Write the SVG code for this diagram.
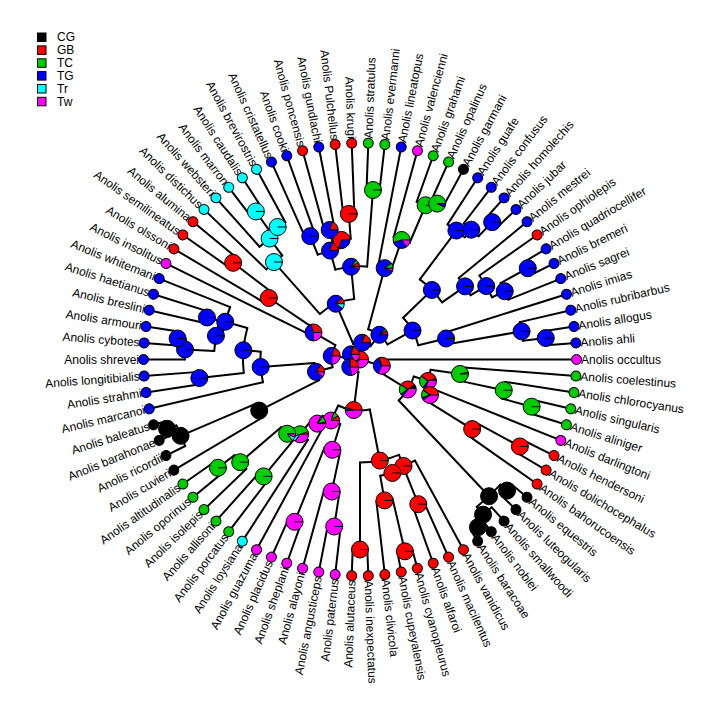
<svg xmlns="http://www.w3.org/2000/svg" xmlns:xlink="http://www.w3.org/1999/xlink" width="720" height="720" viewBox="0 0 720 720">
<style>
.e path,.e circle{fill:none;stroke:#000;stroke-width:2;stroke-linecap:round}
.tp{stroke:#000;stroke-width:1}
.K{fill:#000}.R{fill:#f00}.G{fill:#00cd00}.B{fill:#00f}.C{fill:#0ff}.M{fill:#f0f}
.s{fill:none;stroke-width:8.5}
.sK{stroke:#000}.sR{stroke:#f00}.sG{stroke:#00cd00}.sB{stroke:#00f}.sC{stroke:#0ff}.sM{stroke:#f0f}
.o{fill:none;stroke:#000;stroke-width:1}
.bd{stroke:#000;stroke-width:1;fill:none}
text{font-family:"Liberation Sans",Arial,Helvetica,sans-serif;font-size:12px;dominant-baseline:central;fill:#000}
.l{text-anchor:end}
</style>
<defs>
<g id="pK"><circle r="8.5" fill="#000" stroke="#000"/></g>
<g id="pR"><circle r="8.5" fill="#f00" stroke="#000"/><path d="M0 0H8.5" stroke="#000"/></g>
<g id="pG"><circle r="8.5" fill="#00cd00" stroke="#000"/><path d="M0 0H8.5" stroke="#000"/></g>
<g id="pB"><circle r="8.5" fill="#00f" stroke="#000"/><path d="M0 0H8.5" stroke="#000"/></g>
<g id="pC"><circle r="8.5" fill="#0ff" stroke="#000"/><path d="M0 0H8.5" stroke="#000"/></g>
<g id="pM"><circle r="8.5" fill="#f0f" stroke="#000"/><path d="M0 0H8.5" stroke="#000"/></g>
</defs>
<rect width="720" height="720" fill="#fff"/>
<g id="connectors" class="e" transform="translate(360 359.5)">
<circle r="187" stroke-dasharray="14.33 2000" transform="rotate(-8.78)"/><path d="M187 0H216.5" transform="rotate(-4.39)"/><path d="M187 0H216.5" transform="rotate(-8.78)"/>
<circle r="164" stroke-dasharray="18.85 2000" transform="rotate(-13.17)"/><path d="M164 0H187" transform="rotate(-6.585)"/><path d="M164 0H216.5" transform="rotate(-13.17)"/>
<circle r="88.6" stroke-dasharray="11.88 2000" transform="rotate(-17.56)"/><path d="M88.6 0H164" transform="rotate(-9.88)"/><path d="M88.6 0H216.5" transform="rotate(-17.56)"/>
<circle r="191" stroke-dasharray="14.63 2000" transform="rotate(-30.73)"/><path d="M191 0H216.5" transform="rotate(-26.34)"/><path d="M191 0H216.5" transform="rotate(-30.73)"/>
<circle r="160" stroke-dasharray="18.40 2000" transform="rotate(-28.54)"/><path d="M160 0H216.5" transform="rotate(-21.95)"/><path d="M160 0H191" transform="rotate(-28.54)"/>
<circle r="146" stroke-dasharray="25.18 2000" transform="rotate(-35.12)"/><path d="M146 0H160" transform="rotate(-25.24)"/><path d="M146 0H216.5" transform="rotate(-35.12)"/>
<circle r="128" stroke-dasharray="20.84 2000" transform="rotate(-39.51)"/><path d="M128 0H146" transform="rotate(-30.18)"/><path d="M128 0H216.5" transform="rotate(-39.51)"/>
<circle r="190.6" stroke-dasharray="14.60 2000" transform="rotate(-48.29)"/><path d="M190.6 0H216.5" transform="rotate(-43.9)"/><path d="M190.6 0H216.5" transform="rotate(-48.29)"/>
<circle r="171" stroke-dasharray="19.64 2000" transform="rotate(-52.68)"/><path d="M171 0H190.6" transform="rotate(-46.10)"/><path d="M171 0H216.5" transform="rotate(-52.68)"/>
<circle r="161" stroke-dasharray="21.58 2000" transform="rotate(-57.07)"/><path d="M161 0H171" transform="rotate(-49.39)"/><path d="M161 0H216.5" transform="rotate(-57.07)"/>
<circle r="100" stroke-dasharray="32.08 2000" transform="rotate(-53.23)"/><path d="M100 0H128" transform="rotate(-34.85)"/><path d="M100 0H161" transform="rotate(-53.23)"/>
<circle r="60" stroke-dasharray="31.75 2000" transform="rotate(-44.04)"/><path d="M60 0H88.6" transform="rotate(-13.72)"/><path d="M60 0H100" transform="rotate(-44.04)"/>
<circle r="174" stroke-dasharray="13.33 2000" transform="rotate(-65.85)"/><path d="M174 0H216.5" transform="rotate(-61.46)"/><path d="M174 0H216.5" transform="rotate(-65.85)"/>
<circle r="167.6" stroke-dasharray="19.25 2000" transform="rotate(-70.24)"/><path d="M167.6 0H174" transform="rotate(-63.66)"/><path d="M167.6 0H216.5" transform="rotate(-70.24)"/>
<circle r="126.6" stroke-dasharray="16.97 2000" transform="rotate(-74.63)"/><path d="M126.6 0H167.6" transform="rotate(-66.95)"/><path d="M126.6 0H216.5" transform="rotate(-74.63)"/>
<circle r="94.6" stroke-dasharray="13.59 2000" transform="rotate(-79.02)"/><path d="M94.6 0H126.6" transform="rotate(-70.79)"/><path d="M94.6 0H216.5" transform="rotate(-79.02)"/>
<circle r="31.4" stroke-dasharray="25.23 2000" transform="rotate(-74.91)"/><path d="M31.4 0H60" transform="rotate(-28.88)"/><path d="M31.4 0H94.6" transform="rotate(-74.91)"/>
<circle r="170" stroke-dasharray="13.03 2000" transform="rotate(-87.8)"/><path d="M170 0H216.5" transform="rotate(-83.41)"/><path d="M170 0H216.5" transform="rotate(-87.8)"/>
<circle r="146" stroke-dasharray="11.19 2000" transform="rotate(-96.59)"/><path d="M146 0H216.5" transform="rotate(-92.2)"/><path d="M146 0H216.5" transform="rotate(-96.59)"/>
<circle r="133" stroke-dasharray="10.19 2000" transform="rotate(-105.37)"/><path d="M133 0H216.5" transform="rotate(-100.98)"/><path d="M133 0H216.5" transform="rotate(-105.37)"/>
<circle r="121" stroke-dasharray="18.54 2000" transform="rotate(-103.17)"/><path d="M121 0H146" transform="rotate(-94.39)"/><path d="M121 0H133" transform="rotate(-103.17)"/>
<circle r="133" stroke-dasharray="10.19 2000" transform="rotate(-114.15)"/><path d="M133 0H216.5" transform="rotate(-109.76)"/><path d="M133 0H216.5" transform="rotate(-114.15)"/>
<circle r="113" stroke-dasharray="25.97 2000" transform="rotate(-111.95)"/><path d="M113 0H121" transform="rotate(-98.78)"/><path d="M113 0H133" transform="rotate(-111.95)"/>
<circle r="93.2" stroke-dasharray="32.14 2000" transform="rotate(-105.37)"/><path d="M93.2 0H170" transform="rotate(-85.61)"/><path d="M93.2 0H113" transform="rotate(-105.37)"/>
<circle r="181" stroke-dasharray="13.87 2000" transform="rotate(-127.32)"/><path d="M181 0H216.5" transform="rotate(-122.93)"/><path d="M181 0H216.5" transform="rotate(-127.32)"/>
<circle r="156" stroke-dasharray="17.92 2000" transform="rotate(-125.12)"/><path d="M156 0H216.5" transform="rotate(-118.54)"/><path d="M156 0H181" transform="rotate(-125.12)"/>
<circle r="151" stroke-dasharray="26.04 2000" transform="rotate(-131.71)"/><path d="M151 0H156" transform="rotate(-121.83)"/><path d="M151 0H216.5" transform="rotate(-131.71)"/>
<circle r="130" stroke-dasharray="21.17 2000" transform="rotate(-136.1)"/><path d="M130 0H151" transform="rotate(-126.77)"/><path d="M130 0H216.5" transform="rotate(-136.1)"/>
<circle r="60.8" stroke-dasharray="38.15 2000" transform="rotate(-131.44)"/><path d="M60.8 0H93.2" transform="rotate(-95.49)"/><path d="M60.8 0H130" transform="rotate(-131.44)"/>
<circle r="159.5" stroke-dasharray="12.22 2000" transform="rotate(-144.88)"/><path d="M159.5 0H216.5" transform="rotate(-140.49)"/><path d="M159.5 0H216.5" transform="rotate(-144.88)"/>
<circle r="110" stroke-dasharray="12.63 2000" transform="rotate(-149.27)"/><path d="M110 0H159.5" transform="rotate(-142.69)"/><path d="M110 0H216.5" transform="rotate(-149.27)"/>
<circle r="53.8" stroke-dasharray="7.21 2000" transform="rotate(-153.66)"/><path d="M53.8 0H110" transform="rotate(-145.98)"/><path d="M53.8 0H216.5" transform="rotate(-153.66)"/>
<circle r="183.6" stroke-dasharray="14.07 2000" transform="rotate(-175.61)"/><path d="M183.6 0H216.5" transform="rotate(-171.22)"/><path d="M183.6 0H216.5" transform="rotate(-175.61)"/>
<circle r="175.3" stroke-dasharray="20.13 2000" transform="rotate(-180)"/><path d="M175.3 0H183.6" transform="rotate(-173.42)"/><path d="M175.3 0H216.5" transform="rotate(-180)"/>
<circle r="158.7" stroke-dasharray="12.16 2000" transform="rotate(-166.83)"/><path d="M158.7 0H216.5" transform="rotate(-162.44)"/><path d="M158.7 0H216.5" transform="rotate(-166.83)"/>
<circle r="146" stroke-dasharray="30.76 2000" transform="rotate(-176.71)"/><path d="M146 0H158.7" transform="rotate(-164.64)"/><path d="M146 0H175.3" transform="rotate(-176.71)"/>
<circle r="140" stroke-dasharray="30.86 2000" transform="rotate(-170.68)"/><path d="M140 0H216.5" transform="rotate(-158.05)"/><path d="M140 0H146" transform="rotate(-170.68)"/>
<circle r="161.7" stroke-dasharray="12.39 2000" transform="rotate(-188.78)"/><path d="M161.7 0H216.5" transform="rotate(-184.39)"/><path d="M161.7 0H216.5" transform="rotate(-188.78)"/>
<circle r="117" stroke-dasharray="45.39 2000" transform="rotate(-186.59)"/><path d="M117 0H140" transform="rotate(-164.36)"/><path d="M117 0H161.7" transform="rotate(-186.59)"/>
<circle r="99.6" stroke-dasharray="30.77 2000" transform="rotate(-193.17)"/><path d="M99.6 0H117" transform="rotate(-175.47)"/><path d="M99.6 0H216.5" transform="rotate(-193.17)"/>
<circle r="205" stroke-dasharray="15.71 2000" transform="rotate(-201.95)"/><path d="M205 0H216.5" transform="rotate(-197.56)"/><path d="M205 0H216.5" transform="rotate(-201.95)"/>
<circle r="195" stroke-dasharray="22.39 2000" transform="rotate(-206.34)"/><path d="M195 0H205" transform="rotate(-199.76)"/><path d="M195 0H216.5" transform="rotate(-206.34)"/>
<circle r="113" stroke-dasharray="15.15 2000" transform="rotate(-210.73)"/><path d="M113 0H195" transform="rotate(-203.05)"/><path d="M113 0H216.5" transform="rotate(-210.73)"/>
<circle r="45.7" stroke-dasharray="18.00 2000" transform="rotate(-206.89)"/><path d="M45.7 0H99.6" transform="rotate(-184.32)"/><path d="M45.7 0H113" transform="rotate(-206.89)"/>
<circle r="28.5" stroke-dasharray="22.77 2000" transform="rotate(-195.6)"/><path d="M28.5 0H53.8" transform="rotate(-149.82)"/><path d="M28.5 0H45.7" transform="rotate(-195.6)"/>
<circle r="178.6" stroke-dasharray="13.68 2000" transform="rotate(-219.51)"/><path d="M178.6 0H216.5" transform="rotate(-215.12)"/><path d="M178.6 0H216.5" transform="rotate(-219.51)"/>
<circle r="157.8" stroke-dasharray="18.12 2000" transform="rotate(-223.9)"/><path d="M157.8 0H178.6" transform="rotate(-217.32)"/><path d="M157.8 0H216.5" transform="rotate(-223.9)"/>
<circle r="151.5" stroke-dasharray="11.61 2000" transform="rotate(-232.68)"/><path d="M151.5 0H216.5" transform="rotate(-228.29)"/><path d="M151.5 0H216.5" transform="rotate(-232.68)"/>
<circle r="104" stroke-dasharray="17.93 2000" transform="rotate(-230.49)"/><path d="M104 0H157.8" transform="rotate(-220.61)"/><path d="M104 0H151.5" transform="rotate(-230.49)"/>
<circle r="95.8" stroke-dasharray="19.26 2000" transform="rotate(-237.07)"/><path d="M95.8 0H104" transform="rotate(-225.55)"/><path d="M95.8 0H216.5" transform="rotate(-237.07)"/>
<circle r="77" stroke-dasharray="13.64 2000" transform="rotate(-241.46)"/><path d="M77 0H95.8" transform="rotate(-231.31)"/><path d="M77 0H216.5" transform="rotate(-241.46)"/>
<circle r="175" stroke-dasharray="13.41 2000" transform="rotate(-250.24)"/><path d="M175 0H216.5" transform="rotate(-245.85)"/><path d="M175 0H216.5" transform="rotate(-250.24)"/>
<circle r="169" stroke-dasharray="12.95 2000" transform="rotate(-263.41)"/><path d="M169 0H216.5" transform="rotate(-259.02)"/><path d="M169 0H216.5" transform="rotate(-263.41)"/>
<circle r="135" stroke-dasharray="15.53 2000" transform="rotate(-261.22)"/><path d="M135 0H216.5" transform="rotate(-254.63)"/><path d="M135 0H169" transform="rotate(-261.22)"/>
<circle r="94.4" stroke-dasharray="16.26 2000" transform="rotate(-257.92)"/><path d="M94.4 0H175" transform="rotate(-248.05)"/><path d="M94.4 0H135" transform="rotate(-257.92)"/>
<circle r="67.5" stroke-dasharray="19.56 2000" transform="rotate(-252.99)"/><path d="M67.5 0H77" transform="rotate(-236.39)"/><path d="M67.5 0H94.4" transform="rotate(-252.99)"/>
<circle r="190" stroke-dasharray="14.56 2000" transform="rotate(-272.2)"/><path d="M190 0H216.5" transform="rotate(-267.8)"/><path d="M190 0H216.5" transform="rotate(-272.2)"/>
<circle r="197" stroke-dasharray="15.09 2000" transform="rotate(-285.37)"/><path d="M197 0H216.5" transform="rotate(-280.98)"/><path d="M197 0H216.5" transform="rotate(-285.37)"/>
<circle r="143" stroke-dasharray="16.42 2000" transform="rotate(-283.17)"/><path d="M143 0H216.5" transform="rotate(-276.59)"/><path d="M143 0H197" transform="rotate(-283.17)"/>
<circle r="156" stroke-dasharray="11.95 2000" transform="rotate(-294.15)"/><path d="M156 0H216.5" transform="rotate(-289.76)"/><path d="M156 0H216.5" transform="rotate(-294.15)"/>
<circle r="118" stroke-dasharray="24.86 2000" transform="rotate(-291.95)"/><path d="M118 0H143" transform="rotate(-279.88)"/><path d="M118 0H156" transform="rotate(-291.95)"/>
<circle r="115" stroke-dasharray="25.33 2000" transform="rotate(-298.54)"/><path d="M115 0H118" transform="rotate(-285.92)"/><path d="M115 0H216.5" transform="rotate(-298.54)"/>
<circle r="103" stroke-dasharray="39.96 2000" transform="rotate(-292.23)"/><path d="M103 0H190" transform="rotate(-270)"/><path d="M103 0H115" transform="rotate(-292.23)"/>
<circle r="50.9" stroke-dasharray="32.36 2000" transform="rotate(-281.12)"/><path d="M50.9 0H67.5" transform="rotate(-244.69)"/><path d="M50.9 0H103" transform="rotate(-281.12)"/>
<circle r="205" stroke-dasharray="15.71 2000" transform="rotate(-307.32)"/><path d="M205 0H216.5" transform="rotate(-302.93)"/><path d="M205 0H216.5" transform="rotate(-307.32)"/>
<circle r="198" stroke-dasharray="22.77 2000" transform="rotate(-311.71)"/><path d="M198 0H205" transform="rotate(-305.12)"/><path d="M198 0H216.5" transform="rotate(-311.71)"/>
<circle r="197" stroke-dasharray="15.09 2000" transform="rotate(-320.49)"/><path d="M197 0H216.5" transform="rotate(-316.1)"/><path d="M197 0H216.5" transform="rotate(-320.49)"/>
<circle r="188" stroke-dasharray="32.39 2000" transform="rotate(-318.29)"/><path d="M188 0H198" transform="rotate(-308.42)"/><path d="M188 0H197" transform="rotate(-318.29)"/>
<circle r="182" stroke-dasharray="13.94 2000" transform="rotate(-333.66)"/><path d="M182 0H216.5" transform="rotate(-329.27)"/><path d="M182 0H216.5" transform="rotate(-333.66)"/>
<circle r="132" stroke-dasharray="15.16 2000" transform="rotate(-331.46)"/><path d="M132 0H216.5" transform="rotate(-324.88)"/><path d="M132 0H182" transform="rotate(-331.46)"/>
<circle r="78.5" stroke-dasharray="13.54 2000" transform="rotate(-338.05)"/><path d="M78.5 0H132" transform="rotate(-328.17)"/><path d="M78.5 0H216.5" transform="rotate(-338.05)"/>
<circle r="178" stroke-dasharray="13.64 2000" transform="rotate(-346.83)"/><path d="M178 0H216.5" transform="rotate(-342.44)"/><path d="M178 0H216.5" transform="rotate(-346.83)"/>
<circle r="147" stroke-dasharray="16.91 2000" transform="rotate(-351.22)"/><path d="M147 0H178" transform="rotate(-344.63)"/><path d="M147 0H216.5" transform="rotate(-351.22)"/>
<circle r="101" stroke-dasharray="13.54 2000" transform="rotate(-355.61)"/><path d="M101 0H147" transform="rotate(-347.93)"/><path d="M101 0H216.5" transform="rotate(-355.61)"/>
<circle r="71.3" stroke-dasharray="23.22 2000" transform="rotate(-351.77)"/><path d="M71.3 0H78.5" transform="rotate(-333.11)"/><path d="M71.3 0H101" transform="rotate(-351.77)"/>
<circle r="56.4" stroke-dasharray="28.64 2000" transform="rotate(-342.44)"/><path d="M56.4 0H188" transform="rotate(-313.35)"/><path d="M56.4 0H71.3" transform="rotate(-342.44)"/>
<circle r="22.7" stroke-dasharray="12.72 2000"/><path d="M22.7 0H56.4" transform="rotate(-327.9)"/><path d="M22.7 0H216.5"/>
<circle r="16.9" stroke-dasharray="18.16 2000" transform="rotate(-113.46)"/><path d="M16.9 0H31.4" transform="rotate(-51.89)"/><path d="M16.9 0H60.8" transform="rotate(-113.46)"/>
<circle r="12.3" stroke-dasharray="19.36 2000" transform="rotate(-262.9)"/><path d="M12.3 0H28.5" transform="rotate(-172.71)"/><path d="M12.3 0H50.9" transform="rotate(-262.9)"/>
<circle r="10.4" stroke-dasharray="24.53 2000" transform="rotate(-217.81)"/><path d="M10.4 0H16.9" transform="rotate(-82.68)"/><path d="M10.4 0H12.3" transform="rotate(-217.81)"/>
<path d="M0 0H10.4" transform="rotate(-150.25)"/><path d="M0 0H22.7" transform="rotate(-343.95)"/>
</g>
<g id="tips" transform="translate(360 359.5)">
<g id="tip_ahli" transform="rotate(-4.39)"><circle class="tp B" cx="216.5" r="5"/><text x="221">Anolis ahli</text></g>
<g id="tip_allogus" transform="rotate(-8.78)"><circle class="tp B" cx="216.5" r="5"/><text x="221">Anolis allogus</text></g>
<g id="tip_rubribarbus" transform="rotate(-13.17)"><circle class="tp B" cx="216.5" r="5"/><text x="221">Anolis rubribarbus</text></g>
<g id="tip_imias" transform="rotate(-17.56)"><circle class="tp B" cx="216.5" r="5"/><text x="221">Anolis imias</text></g>
<g id="tip_sagrei" transform="rotate(-21.95)"><circle class="tp B" cx="216.5" r="5"/><text x="221">Anolis sagrei</text></g>
<g id="tip_bremeri" transform="rotate(-26.34)"><circle class="tp B" cx="216.5" r="5"/><text x="221">Anolis bremeri</text></g>
<g id="tip_quadriocellifer" transform="rotate(-30.73)"><circle class="tp B" cx="216.5" r="5"/><text x="221">Anolis quadriocellifer</text></g>
<g id="tip_ophiolepis" transform="rotate(-35.12)"><circle class="tp R" cx="216.5" r="5"/><text x="221">Anolis ophiolepis</text></g>
<g id="tip_mestrei" transform="rotate(-39.51)"><circle class="tp B" cx="216.5" r="5"/><text x="221">Anolis mestrei</text></g>
<g id="tip_jubar" transform="rotate(-43.9)"><circle class="tp B" cx="216.5" r="5"/><text x="221">Anolis jubar</text></g>
<g id="tip_homolechis" transform="rotate(-48.29)"><circle class="tp B" cx="216.5" r="5"/><text x="221">Anolis homolechis</text></g>
<g id="tip_confusus" transform="rotate(-52.68)"><circle class="tp B" cx="216.5" r="5"/><text x="221">Anolis confusus</text></g>
<g id="tip_guafe" transform="rotate(-57.07)"><circle class="tp B" cx="216.5" r="5"/><text x="221">Anolis guafe</text></g>
<g id="tip_garmani" transform="rotate(-61.46)"><circle class="tp K" cx="216.5" r="5"/><text x="221">Anolis garmani</text></g>
<g id="tip_opalinus" transform="rotate(-65.85)"><circle class="tp G" cx="216.5" r="5"/><text x="221">Anolis opalinus</text></g>
<g id="tip_grahami" transform="rotate(-70.24)"><circle class="tp G" cx="216.5" r="5"/><text x="221">Anolis grahami</text></g>
<g id="tip_valencienni" transform="rotate(-74.63)"><circle class="tp M" cx="216.5" r="5"/><text x="221">Anolis valencienni</text></g>
<g id="tip_lineatopus" transform="rotate(-79.02)"><circle class="tp B" cx="216.5" r="5"/><text x="221">Anolis lineatopus</text></g>
<g id="tip_evermanni" transform="rotate(-83.41)"><circle class="tp G" cx="216.5" r="5"/><text x="221">Anolis evermanni</text></g>
<g id="tip_stratulus" transform="rotate(-87.8)"><circle class="tp G" cx="216.5" r="5"/><text x="221">Anolis stratulus</text></g>
<g id="tip_krugi" transform="rotate(87.8)"><circle class="tp R" cx="-216.5" r="5"/><text class="l" x="-221">Anolis krugi</text></g>
<g id="tip_pulchellus" transform="rotate(83.41)"><circle class="tp R" cx="-216.5" r="5"/><text class="l" x="-221">Anolis Pulchellus</text></g>
<g id="tip_gundlachi" transform="rotate(79.02)"><circle class="tp B" cx="-216.5" r="5"/><text class="l" x="-221">Anolis gundlachi</text></g>
<g id="tip_poncensis" transform="rotate(74.63)"><circle class="tp R" cx="-216.5" r="5"/><text class="l" x="-221">Anolis poncensis</text></g>
<g id="tip_cooki" transform="rotate(70.24)"><circle class="tp B" cx="-216.5" r="5"/><text class="l" x="-221">Anolis cooki</text></g>
<g id="tip_cristatellus" transform="rotate(65.85)"><circle class="tp B" cx="-216.5" r="5"/><text class="l" x="-221">Anolis cristatellus</text></g>
<g id="tip_brevirostris" transform="rotate(61.46)"><circle class="tp C" cx="-216.5" r="5"/><text class="l" x="-221">Anolis brevirostris</text></g>
<g id="tip_caudalis" transform="rotate(57.07)"><circle class="tp C" cx="-216.5" r="5"/><text class="l" x="-221">Anolis caudalis</text></g>
<g id="tip_marron" transform="rotate(52.68)"><circle class="tp C" cx="-216.5" r="5"/><text class="l" x="-221">Anolis marron</text></g>
<g id="tip_websteri" transform="rotate(48.29)"><circle class="tp C" cx="-216.5" r="5"/><text class="l" x="-221">Anolis websteri</text></g>
<g id="tip_distichus" transform="rotate(43.9)"><circle class="tp C" cx="-216.5" r="5"/><text class="l" x="-221">Anolis distichus</text></g>
<g id="tip_alumina" transform="rotate(39.51)"><circle class="tp R" cx="-216.5" r="5"/><text class="l" x="-221">Anolis alumina</text></g>
<g id="tip_semilineatus" transform="rotate(35.12)"><circle class="tp R" cx="-216.5" r="5"/><text class="l" x="-221">Anolis semilineatus</text></g>
<g id="tip_olssoni" transform="rotate(30.73)"><circle class="tp R" cx="-216.5" r="5"/><text class="l" x="-221">Anolis olssoni</text></g>
<g id="tip_insolitus" transform="rotate(26.34)"><circle class="tp M" cx="-216.5" r="5"/><text class="l" x="-221">Anolis insolitus</text></g>
<g id="tip_whitemani" transform="rotate(21.95)"><circle class="tp B" cx="-216.5" r="5"/><text class="l" x="-221">Anolis whitemani</text></g>
<g id="tip_haetianus" transform="rotate(17.56)"><circle class="tp B" cx="-216.5" r="5"/><text class="l" x="-221">Anolis haetianus</text></g>
<g id="tip_breslini" transform="rotate(13.17)"><circle class="tp B" cx="-216.5" r="5"/><text class="l" x="-221">Anolis breslini</text></g>
<g id="tip_armouri" transform="rotate(8.78)"><circle class="tp B" cx="-216.5" r="5"/><text class="l" x="-221">Anolis armouri</text></g>
<g id="tip_cybotes" transform="rotate(4.39)"><circle class="tp B" cx="-216.5" r="5"/><text class="l" x="-221">Anolis cybotes</text></g>
<g id="tip_shrevei"><circle class="tp B" cx="-216.5" r="5"/><text class="l" x="-221">Anolis shrevei</text></g>
<g id="tip_longitibialis" transform="rotate(-4.39)"><circle class="tp B" cx="-216.5" r="5"/><text class="l" x="-221">Anolis longitibialis</text></g>
<g id="tip_strahmi" transform="rotate(-8.78)"><circle class="tp B" cx="-216.5" r="5"/><text class="l" x="-221">Anolis strahmi</text></g>
<g id="tip_marcanoi" transform="rotate(-13.17)"><circle class="tp B" cx="-216.5" r="5"/><text class="l" x="-221">Anolis marcanoi</text></g>
<g id="tip_baleatus" transform="rotate(-17.56)"><circle class="tp K" cx="-216.5" r="5"/><text class="l" x="-221">Anolis baleatus</text></g>
<g id="tip_barahonae" transform="rotate(-21.95)"><circle class="tp K" cx="-216.5" r="5"/><text class="l" x="-221">Anolis barahonae</text></g>
<g id="tip_ricordii" transform="rotate(-26.34)"><circle class="tp K" cx="-216.5" r="5"/><text class="l" x="-221">Anolis ricordii</text></g>
<g id="tip_cuvieri" transform="rotate(-30.73)"><circle class="tp K" cx="-216.5" r="5"/><text class="l" x="-221">Anolis cuvieri</text></g>
<g id="tip_altitudinalis" transform="rotate(-35.12)"><circle class="tp G" cx="-216.5" r="5"/><text class="l" x="-221">Anolis altitudinalis</text></g>
<g id="tip_oporinus" transform="rotate(-39.51)"><circle class="tp G" cx="-216.5" r="5"/><text class="l" x="-221">Anolis oporinus</text></g>
<g id="tip_isolepis" transform="rotate(-43.9)"><circle class="tp G" cx="-216.5" r="5"/><text class="l" x="-221">Anolis isolepis</text></g>
<g id="tip_allisoni" transform="rotate(-48.29)"><circle class="tp G" cx="-216.5" r="5"/><text class="l" x="-221">Anolis allisoni</text></g>
<g id="tip_porcatus" transform="rotate(-52.68)"><circle class="tp G" cx="-216.5" r="5"/><text class="l" x="-221">Anolis porcatus</text></g>
<g id="tip_loysiana" transform="rotate(-57.07)"><circle class="tp C" cx="-216.5" r="5"/><text class="l" x="-221">Anolis loysiana</text></g>
<g id="tip_guazuma" transform="rotate(-61.46)"><circle class="tp M" cx="-216.5" r="5"/><text class="l" x="-221">Anolis guazuma</text></g>
<g id="tip_placidus" transform="rotate(-65.85)"><circle class="tp M" cx="-216.5" r="5"/><text class="l" x="-221">Anolis placidus</text></g>
<g id="tip_sheplani" transform="rotate(-70.24)"><circle class="tp M" cx="-216.5" r="5"/><text class="l" x="-221">Anolis sheplani</text></g>
<g id="tip_alayoni" transform="rotate(-74.63)"><circle class="tp M" cx="-216.5" r="5"/><text class="l" x="-221">Anolis alayoni</text></g>
<g id="tip_angusticeps" transform="rotate(-79.02)"><circle class="tp M" cx="-216.5" r="5"/><text class="l" x="-221">Anolis angusticeps</text></g>
<g id="tip_paternus" transform="rotate(-83.41)"><circle class="tp M" cx="-216.5" r="5"/><text class="l" x="-221">Anolis paternus</text></g>
<g id="tip_alutaceus" transform="rotate(-87.8)"><circle class="tp R" cx="-216.5" r="5"/><text class="l" x="-221">Anolis alutaceus</text></g>
<g id="tip_inexpectatus" transform="rotate(87.8)"><circle class="tp R" cx="216.5" r="5"/><text x="221">Anolis inexpectatus</text></g>
<g id="tip_clivicola" transform="rotate(83.41)"><circle class="tp R" cx="216.5" r="5"/><text x="221">Anolis clivicola</text></g>
<g id="tip_cupeyalensis" transform="rotate(79.02)"><circle class="tp R" cx="216.5" r="5"/><text x="221">Anolis cupeyalensis</text></g>
<g id="tip_cyanopleurus" transform="rotate(74.63)"><circle class="tp R" cx="216.5" r="5"/><text x="221">Anolis cyanopleurus</text></g>
<g id="tip_alfaroi" transform="rotate(70.24)"><circle class="tp R" cx="216.5" r="5"/><text x="221">Anolis alfaroi</text></g>
<g id="tip_macilentus" transform="rotate(65.85)"><circle class="tp R" cx="216.5" r="5"/><text x="221">Anolis macilentus</text></g>
<g id="tip_vanidicus" transform="rotate(61.46)"><circle class="tp R" cx="216.5" r="5"/><text x="221">Anolis vanidicus</text></g>
<g id="tip_baracoae" transform="rotate(57.07)"><circle class="tp K" cx="216.5" r="5"/><text x="221">Anolis baracoae</text></g>
<g id="tip_noblei" transform="rotate(52.68)"><circle class="tp K" cx="216.5" r="5"/><text x="221">Anolis noblei</text></g>
<g id="tip_smallwoodi" transform="rotate(48.29)"><circle class="tp K" cx="216.5" r="5"/><text x="221">Anolis smallwoodi</text></g>
<g id="tip_luteogularis" transform="rotate(43.9)"><circle class="tp K" cx="216.5" r="5"/><text x="221">Anolis luteogularis</text></g>
<g id="tip_equestris" transform="rotate(39.51)"><circle class="tp K" cx="216.5" r="5"/><text x="221">Anolis equestris</text></g>
<g id="tip_bahorucoensis" transform="rotate(35.12)"><circle class="tp R" cx="216.5" r="5"/><text x="221">Anolis bahorucoensis</text></g>
<g id="tip_dolichocephalus" transform="rotate(30.73)"><circle class="tp R" cx="216.5" r="5"/><text x="221">Anolis dolichocephalus</text></g>
<g id="tip_hendersoni" transform="rotate(26.34)"><circle class="tp R" cx="216.5" r="5"/><text x="221">Anolis hendersoni</text></g>
<g id="tip_darlingtoni" transform="rotate(21.95)"><circle class="tp M" cx="216.5" r="5"/><text x="221">Anolis darlingtoni</text></g>
<g id="tip_aliniger" transform="rotate(17.56)"><circle class="tp G" cx="216.5" r="5"/><text x="221">Anolis aliniger</text></g>
<g id="tip_singularis" transform="rotate(13.17)"><circle class="tp G" cx="216.5" r="5"/><text x="221">Anolis singularis</text></g>
<g id="tip_chlorocyanus" transform="rotate(8.78)"><circle class="tp G" cx="216.5" r="5"/><text x="221">Anolis chlorocyanus</text></g>
<g id="tip_coelestinus" transform="rotate(4.39)"><circle class="tp G" cx="216.5" r="5"/><text x="221">Anolis coelestinus</text></g>
<g id="tip_occultus"><circle class="tp M" cx="216.5" r="5"/><text x="221">Anolis occultus</text></g>
</g>
<g id="nodes" transform="translate(360 359.5)">
<g id="n_root" transform="scale(1 -1)"><circle class="s sR" r="4.25" stroke-dasharray="9.35 30"/><circle class="s sG" r="4.25" stroke-dasharray="1.34 30" transform="rotate(126)"/><circle class="s sB" r="4.25" stroke-dasharray="5.34 30" transform="rotate(144)"/><circle class="s sM" r="4.25" stroke-dasharray="10.68 30" transform="rotate(216)"/><circle class="o" r="8.5"/><path class="bd" d="M0 0H8.5"/><path class="bd" d="M0 0H8.5" transform="rotate(126)"/><path class="bd" d="M0 0H8.5" transform="rotate(144)"/><path class="bd" d="M0 0H8.5" transform="rotate(216)"/></g>
<g id="n_N13" transform="rotate(-150.25) translate(10.4 0) rotate(150.25) scale(1 -1)"><circle class="s sR" r="4.25" stroke-dasharray="5.34 30"/><circle class="s sG" r="4.25" stroke-dasharray="0.53 30" transform="rotate(72)"/><circle class="s sB" r="4.25" stroke-dasharray="16.02 30" transform="rotate(79.2)"/><circle class="s sM" r="4.25" stroke-dasharray="4.81 30" transform="rotate(295.2)"/><circle class="o" r="8.5"/><path class="bd" d="M0 0H8.5"/><path class="bd" d="M0 0H8.5" transform="rotate(72)"/><path class="bd" d="M0 0H8.5" transform="rotate(79.2)"/><path class="bd" d="M0 0H8.5" transform="rotate(295.2)"/></g>
<g id="n_N12" transform="rotate(-217.81) translate(12.3 0) rotate(217.81) scale(1 -1)"><circle class="s sR" r="4.25" stroke-dasharray="6.68 30"/><circle class="s sG" r="4.25" stroke-dasharray="0.53 30" transform="rotate(90)"/><circle class="s sB" r="4.25" stroke-dasharray="13.35 30" transform="rotate(97.2)"/><circle class="s sM" r="4.25" stroke-dasharray="6.14 30" transform="rotate(277.2)"/><circle class="o" r="8.5"/><path class="bd" d="M0 0H8.5"/><path class="bd" d="M0 0H8.5" transform="rotate(90)"/><path class="bd" d="M0 0H8.5" transform="rotate(97.2)"/><path class="bd" d="M0 0H8.5" transform="rotate(277.2)"/></g>
<g id="n_N11" transform="rotate(-82.68) translate(16.9 0) rotate(82.68) scale(1 -1)"><circle class="s sR" r="4.25" stroke-dasharray="5.34 30"/><circle class="s sG" r="4.25" stroke-dasharray="0.8 30" transform="rotate(72)"/><circle class="s sB" r="4.25" stroke-dasharray="20.56 30" transform="rotate(82.8)"/><circle class="o" r="8.5"/><path class="bd" d="M0 0H8.5"/><path class="bd" d="M0 0H8.5" transform="rotate(72)"/><path class="bd" d="M0 0H8.5" transform="rotate(82.8)"/></g>
<g id="n_N10" transform="rotate(-343.95) translate(22.7 0) rotate(343.95) scale(1 -1)"><circle class="s sR" r="4.25" stroke-dasharray="8.01 30"/><circle class="s sG" r="4.25" stroke-dasharray="0.8 30" transform="rotate(108)"/><circle class="s sB" r="4.25" stroke-dasharray="9.35 30" transform="rotate(118.8)"/><circle class="s sM" r="4.25" stroke-dasharray="8.55 30" transform="rotate(244.8)"/><circle class="o" r="8.5"/><path class="bd" d="M0 0H8.5"/><path class="bd" d="M0 0H8.5" transform="rotate(108)"/><path class="bd" d="M0 0H8.5" transform="rotate(118.8)"/><path class="bd" d="M0 0H8.5" transform="rotate(244.8)"/></g>
<g id="n_N6" transform="rotate(-172.71) translate(28.5 0) rotate(172.71) scale(1 -1)"><circle class="s sR" r="4.25" stroke-dasharray="5.34 30"/><circle class="s sB" r="4.25" stroke-dasharray="14.69 30" transform="rotate(72)"/><circle class="s sM" r="4.25" stroke-dasharray="6.68 30" transform="rotate(270)"/><circle class="o" r="8.5"/><path class="bd" d="M0 0H8.5"/><path class="bd" d="M0 0H8.5" transform="rotate(72)"/><path class="bd" d="M0 0H8.5" transform="rotate(270)"/></g>
<g id="n_N1" transform="rotate(-51.89) translate(31.4 0) rotate(51.89) scale(1 -1)"><circle class="s sR" r="4.25" stroke-dasharray="2.14 30"/><circle class="s sG" r="4.25" stroke-dasharray="1.34 30" transform="rotate(28.8)"/><circle class="s sB" r="4.25" stroke-dasharray="23.23 30" transform="rotate(46.8)"/><circle class="o" r="8.5"/><path class="bd" d="M0 0H8.5"/><path class="bd" d="M0 0H8.5" transform="rotate(28.8)"/><path class="bd" d="M0 0H8.5" transform="rotate(46.8)"/></g>
<g id="n_N5" transform="rotate(-195.6) translate(45.7 0) rotate(195.6) scale(1 -1)"><circle class="s sR" r="4.25" stroke-dasharray="4.01 30"/><circle class="s sB" r="4.25" stroke-dasharray="20.03 30" transform="rotate(54)"/><circle class="s sM" r="4.25" stroke-dasharray="2.67 30" transform="rotate(324)"/><circle class="o" r="8.5"/><path class="bd" d="M0 0H8.5"/><path class="bd" d="M0 0H8.5" transform="rotate(54)"/><path class="bd" d="M0 0H8.5" transform="rotate(324)"/></g>
<g id="n_N7" transform="rotate(-262.9) translate(50.9 0) rotate(262.9) scale(1 -1)"><circle class="s sR" r="4.25" stroke-dasharray="12.02 30"/><circle class="s sG" r="4.25" stroke-dasharray="0.53 30" transform="rotate(162)"/><circle class="s sB" r="4.25" stroke-dasharray="1.34 30" transform="rotate(169.2)"/><circle class="s sM" r="4.25" stroke-dasharray="12.82 30" transform="rotate(187.2)"/><circle class="o" r="8.5"/><path class="bd" d="M0 0H8.5"/><path class="bd" d="M0 0H8.5" transform="rotate(162)"/><path class="bd" d="M0 0H8.5" transform="rotate(187.2)"/></g>
<g id="n_N4" transform="rotate(-149.82) translate(53.8 0) rotate(149.82) scale(1 -1)"><circle class="s sR" r="4.25" stroke-dasharray="8.01 30"/><circle class="s sB" r="4.25" stroke-dasharray="12.02 30" transform="rotate(108)"/><circle class="s sM" r="4.25" stroke-dasharray="6.68 30" transform="rotate(270)"/><circle class="o" r="8.5"/><path class="bd" d="M0 0H8.5"/><path class="bd" d="M0 0H8.5" transform="rotate(108)"/><path class="bd" d="M0 0H8.5" transform="rotate(270)"/></g>
<g id="n_N9" transform="rotate(-327.9) translate(56.4 0) rotate(327.9) scale(1 -1)"><circle class="s sK" r="4.25" stroke-dasharray="2.67 30"/><circle class="s sR" r="4.25" stroke-dasharray="8.01 30" transform="rotate(36)"/><circle class="s sG" r="4.25" stroke-dasharray="5.34 30" transform="rotate(144)"/><circle class="s sB" r="4.25" stroke-dasharray="1.34 30" transform="rotate(216)"/><circle class="s sM" r="4.25" stroke-dasharray="9.35 30" transform="rotate(234)"/><circle class="o" r="8.5"/><path class="bd" d="M0 0H8.5" transform="rotate(36)"/><path class="bd" d="M0 0H8.5" transform="rotate(144)"/><path class="bd" d="M0 0H8.5" transform="rotate(216)"/><path class="bd" d="M0 0H8.5" transform="rotate(234)"/></g>
<g id="n_N3" transform="rotate(-113.46) translate(60.8 0) rotate(113.46) scale(1 -1)"><circle class="s sR" r="4.25" stroke-dasharray="3.2 30"/><circle class="s sB" r="4.25" stroke-dasharray="20.83 30" transform="rotate(43.2)"/><circle class="s sC" r="4.25" stroke-dasharray="2.67 30" transform="rotate(324)"/><circle class="o" r="8.5"/><path class="bd" d="M0 0H8.5"/><path class="bd" d="M0 0H8.5" transform="rotate(43.2)"/><path class="bd" d="M0 0H8.5" transform="rotate(324)"/></g>
<g id="n_S12" transform="rotate(-28.88) translate(60 0) rotate(28.88)"><use href="#pB"/></g>
<g id="n_G7" transform="rotate(-244.69) translate(67.5 0) rotate(244.69) scale(1 -1)"><circle class="s sR" r="4.25" stroke-dasharray="2.67 30"/><circle class="s sG" r="4.25" stroke-dasharray="2.67 30" transform="rotate(36)"/><circle class="s sM" r="4.25" stroke-dasharray="21.36 30" transform="rotate(72)"/><circle class="o" r="8.5"/><path class="bd" d="M0 0H8.5"/><path class="bd" d="M0 0H8.5" transform="rotate(36)"/><path class="bd" d="M0 0H8.5" transform="rotate(72)"/></g>
<g id="n_N8" transform="rotate(-342.44) translate(71.3 0) rotate(342.44) scale(1 -1)"><circle class="s sK" r="4.25" stroke-dasharray="1.34 30"/><circle class="s sR" r="4.25" stroke-dasharray="9.35 30" transform="rotate(18)"/><circle class="s sG" r="4.25" stroke-dasharray="6.68 30" transform="rotate(144)"/><circle class="s sB" r="4.25" stroke-dasharray="1.34 30" transform="rotate(234)"/><circle class="s sM" r="4.25" stroke-dasharray="8.01 30" transform="rotate(252)"/><circle class="o" r="8.5"/><path class="bd" d="M0 0H8.5" transform="rotate(18)"/><path class="bd" d="M0 0H8.5" transform="rotate(144)"/><path class="bd" d="M0 0H8.5" transform="rotate(234)"/><path class="bd" d="M0 0H8.5" transform="rotate(252)"/></g>
<g id="n_G6" transform="rotate(-236.39) translate(77 0) rotate(236.39) scale(1 -1)"><circle class="s sR" r="4.25" stroke-dasharray="0.8 30"/><circle class="s sG" r="4.25" stroke-dasharray="3.2 30" transform="rotate(10.8)"/><circle class="s sC" r="4.25" stroke-dasharray="0.8 30" transform="rotate(54)"/><circle class="s sM" r="4.25" stroke-dasharray="21.9 30" transform="rotate(64.8)"/><circle class="o" r="8.5"/><path class="bd" d="M0 0H8.5"/><path class="bd" d="M0 0H8.5" transform="rotate(10.8)"/><path class="bd" d="M0 0H8.5" transform="rotate(54)"/><path class="bd" d="M0 0H8.5" transform="rotate(64.8)"/></g>
<g id="n_H3" transform="rotate(-333.11) translate(78.5 0) rotate(333.11) scale(1 -1)"><circle class="s sR" r="4.25" stroke-dasharray="10.68 30"/><circle class="s sG" r="4.25" stroke-dasharray="4.01 30" transform="rotate(144)"/><circle class="s sB" r="4.25" stroke-dasharray="1.34 30" transform="rotate(198)"/><circle class="s sM" r="4.25" stroke-dasharray="10.68 30" transform="rotate(216)"/><circle class="o" r="8.5"/><path class="bd" d="M0 0H8.5"/><path class="bd" d="M0 0H8.5" transform="rotate(144)"/><path class="bd" d="M0 0H8.5" transform="rotate(198)"/><path class="bd" d="M0 0H8.5" transform="rotate(216)"/></g>
<g id="n_S3" transform="rotate(-13.72) translate(88.6 0) rotate(13.72)"><use href="#pB"/></g>
<g id="n_N2" transform="rotate(-95.49) translate(93.2 0) rotate(95.49) scale(1 -1)"><circle class="s sR" r="4.25" stroke-dasharray="2.14 30"/><circle class="s sG" r="4.25" stroke-dasharray="1.87 30" transform="rotate(28.8)"/><circle class="s sB" r="4.25" stroke-dasharray="21.36 30" transform="rotate(54)"/><circle class="s sM" r="4.25" stroke-dasharray="1.34 30" transform="rotate(342)"/><circle class="o" r="8.5"/><path class="bd" d="M0 0H8.5"/><path class="bd" d="M0 0H8.5" transform="rotate(28.8)"/><path class="bd" d="M0 0H8.5" transform="rotate(54)"/><path class="bd" d="M0 0H8.5" transform="rotate(342)"/></g>
<g id="n_W4" transform="rotate(-252.99) translate(94.4 0) rotate(252.99)"><use href="#pM"/></g>
<g id="n_J4" transform="rotate(-74.91) translate(94.6 0) rotate(74.91) scale(1 -1)"><circle class="s sG" r="4.25" stroke-dasharray="2.67 30"/><circle class="s sB" r="4.25" stroke-dasharray="22.43 30" transform="rotate(36)"/><circle class="s sM" r="4.25" stroke-dasharray="1.6 30" transform="rotate(338.4)"/><circle class="o" r="8.5"/><path class="bd" d="M0 0H8.5"/><path class="bd" d="M0 0H8.5" transform="rotate(36)"/><path class="bd" d="M0 0H8.5" transform="rotate(338.4)"/></g>
<g id="n_G5" transform="rotate(-231.31) translate(95.8 0) rotate(231.31) scale(1 -1)"><circle class="s sR" r="4.25" stroke-dasharray="1.34 30"/><circle class="s sG" r="4.25" stroke-dasharray="13.35 30" transform="rotate(18)"/><circle class="s sC" r="4.25" stroke-dasharray="2.67 30" transform="rotate(198)"/><circle class="s sM" r="4.25" stroke-dasharray="9.35 30" transform="rotate(234)"/><circle class="o" r="8.5"/><path class="bd" d="M0 0H8.5"/><path class="bd" d="M0 0H8.5" transform="rotate(18)"/><path class="bd" d="M0 0H8.5" transform="rotate(198)"/><path class="bd" d="M0 0H8.5" transform="rotate(234)"/></g>
<g id="n_D8" transform="rotate(-184.32) translate(99.6 0) rotate(184.32)"><use href="#pB"/></g>
<g id="n_S11" transform="rotate(-44.04) translate(100 0) rotate(44.04)"><use href="#pB"/></g>
<g id="n_X3" transform="rotate(-351.77) translate(101 0) rotate(351.77) scale(1 -1)"><circle class="s sR" r="4.25" stroke-dasharray="0.8 30"/><circle class="s sG" r="4.25" stroke-dasharray="25.9 30" transform="rotate(10.8)"/><circle class="o" r="8.5"/><path class="bd" d="M0 0H8.5"/><path class="bd" d="M0 0H8.5" transform="rotate(10.8)"/></g>
<g id="n_R7" transform="rotate(-281.12) translate(103 0) rotate(281.12)"><use href="#pR"/></g>
<g id="n_G4" transform="rotate(-225.55) translate(104 0) rotate(225.55) scale(1 -1)"><circle class="s sG" r="4.25" stroke-dasharray="22.7 30"/><circle class="s sC" r="4.25" stroke-dasharray="2.14 30" transform="rotate(306)"/><circle class="s sM" r="4.25" stroke-dasharray="1.87 30" transform="rotate(334.8)"/><circle class="o" r="8.5"/><path class="bd" d="M0 0H8.5"/><path class="bd" d="M0 0H8.5" transform="rotate(306)"/><path class="bd" d="M0 0H8.5" transform="rotate(334.8)"/></g>
<g id="n_A2" transform="rotate(-145.98) translate(110 0) rotate(145.98)"><use href="#pR"/></g>
<g id="n_P5" transform="rotate(-105.37) translate(113 0) rotate(105.37) scale(1 -1)"><circle class="s sR" r="4.25" stroke-dasharray="5.34 30"/><circle class="s sB" r="4.25" stroke-dasharray="21.36 30" transform="rotate(72)"/><circle class="o" r="8.5"/><path class="bd" d="M0 0H8.5"/><path class="bd" d="M0 0H8.5" transform="rotate(72)"/></g>
<g id="n_C3" transform="rotate(-206.89) translate(113 0) rotate(206.89)"><use href="#pK"/></g>
<g id="n_R6" transform="rotate(-292.23) translate(115 0) rotate(292.23)"><use href="#pR"/></g>
<g id="n_D7" transform="rotate(-175.47) translate(117 0) rotate(175.47)"><use href="#pB"/></g>
<g id="n_R5" transform="rotate(-285.92) translate(118 0) rotate(285.92)"><use href="#pR"/></g>
<g id="n_P3" transform="rotate(-98.78) translate(121 0) rotate(98.78) scale(1 -1)"><circle class="s sR" r="4.25" stroke-dasharray="18.69 30"/><circle class="s sB" r="4.25" stroke-dasharray="8.01 30" transform="rotate(252)"/><circle class="o" r="8.5"/><path class="bd" d="M0 0H8.5"/><path class="bd" d="M0 0H8.5" transform="rotate(252)"/></g>
<g id="n_J3" transform="rotate(-70.79) translate(126.6 0) rotate(70.79) scale(1 -1)"><circle class="s sG" r="4.25" stroke-dasharray="14.69 30"/><circle class="s sB" r="4.25" stroke-dasharray="8.01 30" transform="rotate(198)"/><circle class="s sM" r="4.25" stroke-dasharray="4.01 30" transform="rotate(306)"/><circle class="o" r="8.5"/><path class="bd" d="M0 0H8.5"/><path class="bd" d="M0 0H8.5" transform="rotate(198)"/><path class="bd" d="M0 0H8.5" transform="rotate(306)"/></g>
<g id="n_S7" transform="rotate(-34.85) translate(128 0) rotate(34.85)"><use href="#pB"/></g>
<g id="n_T4" transform="rotate(-131.44) translate(130 0) rotate(131.44)"><use href="#pC"/></g>
<g id="n_H2" transform="rotate(-328.17) translate(132 0) rotate(328.17)"><use href="#pR"/></g>
<g id="n_P2" transform="rotate(-103.17) translate(133 0) rotate(103.17) scale(1 -1)"><circle class="s sR" r="4.25" stroke-dasharray="5.34 30"/><circle class="s sB" r="4.25" stroke-dasharray="21.36 30" transform="rotate(72)"/><circle class="o" r="8.5"/><path class="bd" d="M0 0H8.5"/><path class="bd" d="M0 0H8.5" transform="rotate(72)"/></g>
<g id="n_P4" transform="rotate(-111.95) translate(133 0) rotate(111.95)"><use href="#pB"/></g>
<g id="n_W3" transform="rotate(-257.92) translate(135 0) rotate(257.92)"><use href="#pM"/></g>
<g id="n_D5" transform="rotate(-164.36) translate(140 0) rotate(164.36)"><use href="#pB"/></g>
<g id="n_R3" transform="rotate(-279.88) translate(143 0) rotate(279.88)"><use href="#pR"/></g>
<g id="n_S6" transform="rotate(-30.18) translate(146 0) rotate(30.18)"><use href="#pB"/></g>
<g id="n_P1" transform="rotate(-94.39) translate(146 0) rotate(94.39)"><use href="#pR"/></g>
<g id="n_D4" transform="rotate(-170.68) translate(146 0) rotate(170.68)"><use href="#pB"/></g>
<g id="n_X2" transform="rotate(-347.93) translate(147 0) rotate(347.93)"><use href="#pG"/></g>
<g id="n_T3" transform="rotate(-126.77) translate(151 0) rotate(126.77)"><use href="#pC"/></g>
<g id="n_G3" transform="rotate(-230.49) translate(151.5 0) rotate(230.49)"><use href="#pG"/></g>
<g id="n_T2" transform="rotate(-121.83) translate(156 0) rotate(121.83)"><use href="#pC"/></g>
<g id="n_R4" transform="rotate(-291.95) translate(156 0) rotate(291.95)"><use href="#pR"/></g>
<g id="n_G2" transform="rotate(-220.61) translate(157.8 0) rotate(220.61)"><use href="#pG"/></g>
<g id="n_D3" transform="rotate(-164.64) translate(158.7 0) rotate(164.64)"><use href="#pB"/></g>
<g id="n_A1" transform="rotate(-142.69) translate(159.5 0) rotate(142.69)"><use href="#pR"/></g>
<g id="n_S5" transform="rotate(-25.24) translate(160 0) rotate(25.24)"><use href="#pB"/></g>
<g id="n_S10" transform="rotate(-53.23) translate(161 0) rotate(53.23)"><use href="#pB"/></g>
<g id="n_D6" transform="rotate(-186.59) translate(161.7 0) rotate(186.59)"><use href="#pB"/></g>
<g id="n_S2" transform="rotate(-9.88) translate(164 0) rotate(9.88)"><use href="#pB"/></g>
<g id="n_J2" transform="rotate(-66.95) translate(167.6 0) rotate(66.95)"><use href="#pG"/></g>
<g id="n_W2" transform="rotate(-261.22) translate(169 0) rotate(261.22)"><use href="#pM"/></g>
<g id="n_E1" transform="rotate(-85.61) translate(170 0) rotate(85.61)"><use href="#pG"/></g>
<g id="n_S9" transform="rotate(-49.39) translate(171 0) rotate(49.39)"><use href="#pB"/></g>
<g id="n_J1" transform="rotate(-63.66) translate(174 0) rotate(63.66) scale(1 -1)"><circle class="s sG" r="4.25" stroke-dasharray="24.83 30"/><circle class="s sB" r="4.25" stroke-dasharray="1.87 30" transform="rotate(334.8)"/><circle class="o" r="8.5"/><path class="bd" d="M0 0H8.5"/><path class="bd" d="M0 0H8.5" transform="rotate(334.8)"/></g>
<g id="n_W1" transform="rotate(-248.05) translate(175 0) rotate(248.05)"><use href="#pM"/></g>
<g id="n_D2" transform="rotate(-176.71) translate(175.3 0) rotate(176.71)"><use href="#pB"/></g>
<g id="n_X0" transform="rotate(-344.63) translate(178 0) rotate(344.63)"><use href="#pG"/></g>
<g id="n_G1" transform="rotate(-217.32) translate(178.6 0) rotate(217.32)"><use href="#pG"/></g>
<g id="n_T1" transform="rotate(-125.12) translate(181 0) rotate(125.12)"><use href="#pC"/></g>
<g id="n_H1" transform="rotate(-331.46) translate(182 0) rotate(331.46)"><use href="#pR"/></g>
<g id="n_D1" transform="rotate(-173.42) translate(183.6 0) rotate(173.42)"><use href="#pB"/></g>
<g id="n_S1" transform="rotate(-6.585) translate(187 0) rotate(6.585)"><use href="#pB"/></g>
<g id="n_B4" transform="rotate(-313.35) translate(188 0) rotate(313.35)"><use href="#pK"/></g>
<g id="n_R1" transform="rotate(-270) translate(190 0) rotate(270)"><use href="#pR"/></g>
<g id="n_S8" transform="rotate(-46.1) translate(190.6 0) rotate(46.1)"><use href="#pB"/></g>
<g id="n_S4" transform="rotate(-28.54) translate(191 0) rotate(28.54)"><use href="#pB"/></g>
<g id="n_C2" transform="rotate(-203.05) translate(195 0) rotate(203.05)"><use href="#pK"/></g>
<g id="n_R2" transform="rotate(-283.17) translate(197 0) rotate(283.17)"><use href="#pR"/></g>
<g id="n_B3" transform="rotate(-318.29) translate(197 0) rotate(318.29)"><use href="#pK"/></g>
<g id="n_B2" transform="rotate(-308.42) translate(198 0) rotate(308.42)"><use href="#pK"/></g>
<g id="n_C1" transform="rotate(-199.76) translate(205 0) rotate(199.76)"><use href="#pK"/></g>
<g id="n_B1" transform="rotate(-305.12) translate(205 0) rotate(305.12)"><use href="#pK"/></g>
</g>
<g id="legend">
<rect x="37.5" y="33" width="8.5" height="8.5" class="K" stroke="#000"/><text x="57" y="37.3">CG</text>
<rect x="37.5" y="45.9" width="8.5" height="8.5" class="R" stroke="#000"/><text x="57" y="50.1">GB</text>
<rect x="37.5" y="58.8" width="8.5" height="8.5" class="G" stroke="#000"/><text x="57" y="63">TC</text>
<rect x="37.5" y="71.6" width="8.5" height="8.5" class="B" stroke="#000"/><text x="57" y="75.8">TG</text>
<rect x="37.5" y="84.5" width="8.5" height="8.5" class="C" stroke="#000"/><text x="57" y="88.7">Tr</text>
<rect x="37.5" y="97.3" width="8.5" height="8.5" class="M" stroke="#000"/><text x="57" y="101.5">Tw</text>
</g>
</svg>
